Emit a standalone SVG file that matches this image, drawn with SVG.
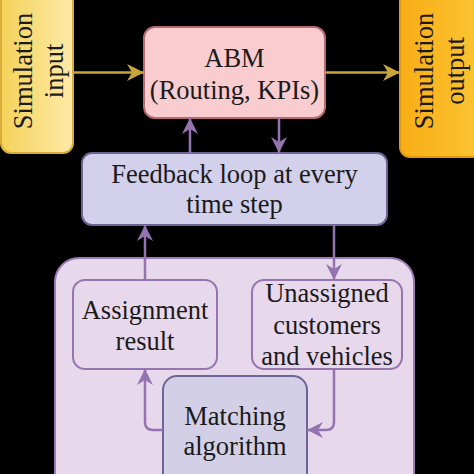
<svg xmlns="http://www.w3.org/2000/svg" width="474" height="474" viewBox="0 0 474 474">
<defs>
<linearGradient id="gIn" x1="0" y1="0" x2="1" y2="0">
<stop offset="0" stop-color="#f5d25a"/>
<stop offset="1" stop-color="#fdeaa8"/>
</linearGradient>
<linearGradient id="gOut" x1="0" y1="0" x2="1" y2="0">
<stop offset="0" stop-color="#f8ae16"/>
<stop offset="1" stop-color="#fcc533"/>
</linearGradient>
<marker id="aGold" markerUnits="userSpaceOnUse" markerWidth="17" markerHeight="17" viewBox="0 0 17 17" refX="17" refY="8.5" orient="auto">
<path d="M0,0 L17,8.5 L0,17 L5,8.5 z" fill="#c9a43a"/>
</marker>
<marker id="aPur" markerUnits="userSpaceOnUse" markerWidth="16" markerHeight="16" viewBox="0 0 16 16" refX="16" refY="8" orient="auto">
<path d="M0,0 L16,8 L0,16 L5,8 z" fill="#9474b0"/>
</marker>
</defs>
<style>
text{font-family:'Times New Roman','Liberation Serif',Tinos,'Noto Serif','DejaVu Serif',serif;font-size:26.5px;fill:#1a1a1a;text-anchor:middle}
.gold{stroke:#c9a43a;stroke-width:2.5;fill:none}
.pur{stroke:#9474b0;stroke-width:2.5;fill:none}
.inner{fill:#e8d8ec;stroke:#9676ae;stroke-width:2}
</style>
<rect width="474" height="474" fill="#000"/>
<g id="sim-input">
<rect x="1" y="-10" width="72" height="163" rx="10" fill="url(#gIn)" stroke="#d9ad3c" stroke-width="2"/>
<text transform="translate(32,71) rotate(-90)">Simulation</text>
<text transform="translate(63,71) rotate(-90)">input</text>
</g>

<g id="sim-output">
<rect x="400" y="-10" width="84" height="167" rx="10" fill="url(#gOut)" stroke="#e09a10" stroke-width="2"/>
<text transform="translate(433,71) rotate(-90)">Simulation</text>
<text transform="translate(464,71) rotate(-90)">output</text>
</g>

<g id="abm">
<rect x="144" y="27" width="181" height="91" rx="11" fill="#f9cccf" stroke="#b56a72" stroke-width="2"/>
<text x="234.5" y="67">ABM</text>
<text x="234.5" y="99">(Routing, KPIs)</text>
</g>

<g id="feedback">
<rect x="82" y="153" width="305" height="72" rx="10" fill="#d2d0ea" stroke="#6c6494" stroke-width="2"/>
<text x="234.5" y="183">Feedback loop at every</text>
<text x="234.5" y="213">time step</text>
</g>

<g id="container">
<rect x="55" y="258" width="359" height="240" rx="24" fill="#e8d8ec" stroke="#9b7cb5" stroke-width="2"/>
</g>

<g id="assignment">
<rect x="73" y="280" width="144" height="89" rx="12" class="inner"/>
<text x="145" y="319">Assignment</text>
<text x="145" y="350">result</text>
</g>

<g id="unassigned">
<rect x="252" y="280" width="150" height="89" rx="12" class="inner"/>
<text x="327" y="302">Unassigned</text>
<text x="327" y="334">customers</text>
<text x="327" y="365">and vehicles</text>
</g>

<g id="matching">
<rect x="163" y="376" width="144" height="120" rx="14" fill="#d3cfe7" stroke="#6d6595" stroke-width="2"/>
<text x="235" y="425">Matching</text>
<text x="235" y="455">algorithm</text>
</g>

<g id="connectors">
<line x1="73" y1="72.5" x2="144" y2="72.5" class="gold" marker-end="url(#aGold)"/>
<line x1="325" y1="72.5" x2="400" y2="72.5" class="gold" marker-end="url(#aGold)"/>
<line x1="190" y1="153" x2="190" y2="118" class="pur" marker-end="url(#aPur)"/>
<line x1="279" y1="118" x2="279" y2="153" class="pur" marker-end="url(#aPur)"/>
<line x1="145" y1="280" x2="145" y2="225" class="pur" marker-end="url(#aPur)"/>
<line x1="334" y1="225" x2="334" y2="280" class="pur" marker-end="url(#aPur)"/>
<path d="M163,430 L153,430 Q145,430 145,422 L145,369" class="pur" marker-end="url(#aPur)"/>
<path d="M334,369 L334,422 Q334,430 326,430 L307,430" class="pur" marker-end="url(#aPur)"/>
</g>
</svg>
